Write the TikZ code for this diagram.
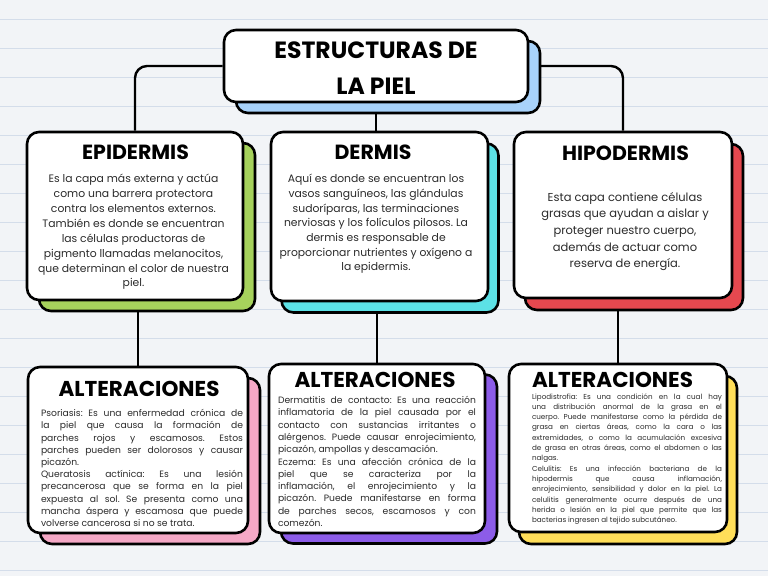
\documentclass[tikz,border=0pt]{standalone}
\usepackage{fontspec}
\setmainfont{Poppins}
\usetikzlibrary{positioning,backgrounds}
\setlength{\parindent}{0pt}
\frenchspacing

\definecolor{paper}{HTML}{F2F4F7}
\definecolor{ruling}{HTML}{D4DDEA}
\definecolor{ink}{HTML}{2B2B2B}
\definecolor{skyblue}{HTML}{A8D2FA}
\definecolor{leafgreen}{HTML}{A6D25C}
\definecolor{aqua}{HTML}{5CE1E6}
\definecolor{coral}{HTML}{E5484F}
\definecolor{rose}{HTML}{F5A8C6}
\definecolor{violet}{HTML}{8C5CE8}
\definecolor{sun}{HTML}{FFDE59}

\begin{document}
\begin{tikzpicture}[x=1pt,y=-1pt,
  box/.style={draw=black,line width=2.6pt,rounded corners=12pt,inner sep=0pt},
  link/.style={draw=black,line width=2.4pt,rounded corners=12pt},
  head/.style={inner sep=0pt,text=black,font=\bfseries\fontsize{20.5}{22}\selectfont},
  althead/.style={head,font=\bfseries\fontsize{21.5}{23}\selectfont},
  body/.style={inner sep=0pt,text=ink,align=center},
  altbody/.style={inner sep=0pt,text=ink,align=justify}]

\useasboundingbox (0,0) rectangle (768,576);

% paper
\begin{scope}[on background layer]
\fill[paper] (0,0) rectangle (768,576);
\foreach \y in {19,48,...,570}
  \draw[ruling,line width=0.9pt] (0,\y) -- (768,\y);
\end{scope}

% title
\node[box,fill=skyblue,minimum width=304pt,minimum height=72pt] (titleback) at (388,77) {};
\node[box,fill=white,minimum width=304pt,minimum height=72pt] (title) at (376,66) {};
\node[head,align=center,font=\bfseries\fontsize{23.5}{36}\selectfont] (titletext) at (376,68) {ESTRUCTURAS DE\\LA PIEL};

% layers
\node[box,fill=leafgreen,minimum width=216pt,minimum height=168pt] (epiback) at (147,227) {};
\node[box,fill=white,minimum width=216pt,minimum height=168pt] (epi) at (135,216) {};
\node[box,fill=aqua,minimum width=217pt,minimum height=169pt] (derback) at (390,228) {};
\node[box,fill=white,minimum width=217pt,minimum height=169pt] (der) at (379.5,216.5) {};
\node[box,fill=coral,minimum width=218pt,minimum height=166pt] (hipoback) at (634,227) {};
\node[box,fill=white,minimum width=218pt,minimum height=166pt] (hipo) at (623,215) {};

\node[head] (epihead) at (135.5,152) {EPIDERMIS};
\node[head] (derhead) at (373,152) {DERMIS};
\node[head] (hipohead) at (625.5,153) {HIPODERMIS};

\node[body,font=\fontsize{10.8}{14.9}\selectfont] (epibody) at (133.5,232) {Es la capa más externa y actúa\\
como una barrera protectora\\
contra los elementos externos.\\
También es donde se encuentran\\
las células productoras de\\
pigmento llamadas melanocitos,\\
que determinan el color de nuestra\\
piel.};
\node[body,font=\fontsize{10.8}{14.7}\selectfont] (derbody) at (376,224) {Aquí es donde se encuentran los\\
vasos sanguíneos, las glándulas\\
sudoríparas, las terminaciones\\
nerviosas y los folículos pilosos. La\\
dermis es responsable de\\
proporcionar nutrientes y oxígeno a\\
la epidermis.};
\node[body,font=\fontsize{11.5}{16.7}\selectfont] (hipobody) at (625,231.5) {Esta capa contiene células\\
grasas que ayudan a aislar y\\
proteger nuestro cuerpo,\\
además de actuar como\\
reserva de energía.};

% alterations
\node[box,fill=rose,minimum width=220pt,minimum height=166pt] (altoneback) at (150,461) {};
\node[box,fill=white,minimum width=220pt,minimum height=166pt] (altone) at (138,450) {};
\node[box,fill=violet,minimum width=216pt,minimum height=169pt] (alttwoback) at (389,459) {};
\node[box,fill=white,minimum width=216pt,minimum height=169pt] (alttwo) at (377,448.5) {};
\node[box,fill=sun,minimum width=218pt,minimum height=168pt] (altthreeback) at (628,460) {};
\node[box,fill=white,minimum width=218pt,minimum height=168pt] (altthree) at (618,448) {};

\node[althead] (altonehead) at (139,389) {ALTERACIONES};
\node[althead] (alttwohead) at (375,380) {ALTERACIONES};
\node[althead] (altthreehead) at (612.5,380) {ALTERACIONES};

\node[altbody,text width=202pt,font=\fontsize{9.2}{12.2}\selectfont] (altonebody) at (142,468) {Psoriasis: Es una enfermedad crónica de\linebreak
la piel que causa la formación de\linebreak
parches rojos y escamosos. Estos\linebreak
parches pueden ser dolorosos y causar\linebreak
picazón.\par
Queratosis actínica: Es una lesión\linebreak
precancerosa que se forma en la piel\linebreak
expuesta al sol. Se presenta como una\linebreak
mancha áspera y escamosa que puede\linebreak
volverse cancerosa si no se trata.};
\node[altbody,text width=198pt,font=\fontsize{9.2}{12.3}\selectfont] (alttwobody) at (377,461.5) {Dermatitis de contacto: Es una reacción\linebreak
inflamatoria de la piel causada por el\linebreak
contacto con sustancias irritantes o\linebreak
alérgenos. Puede causar enrojecimiento,\linebreak
picazón, ampollas y descamación.\par
Eczema: Es una afección crónica de la\linebreak
piel que se caracteriza por la\linebreak
inflamación, el enrojecimiento y la\linebreak
picazón. Puede manifestarse en forma\linebreak
de parches secos, escamosos y con\linebreak
comezón.};
\node[altbody,text width=190pt,font=\fontsize{7.2}{10.3}\selectfont] (altthreebody) at (627,459) {Lipodistrofia: Es una condición en la cual hay\linebreak
una distribución anormal de la grasa en el\linebreak
cuerpo. Puede manifestarse como la pérdida de\linebreak
grasa en ciertas áreas, como la cara o las\linebreak
extremidades, o como la acumulación excesiva\linebreak
de grasa en otras áreas, como el abdomen o las\linebreak
nalgas.\par
Celulitis: Es una infección bacteriana de la\linebreak
hipodermis que causa inflamación,\linebreak
enrojecimiento, sensibilidad y dolor en la piel. La\linebreak
celulitis generalmente ocurre después de una\linebreak
herida o lesión en la piel que permite que las\linebreak
bacterias ingresen al tejido subcutáneo.};

% connectors
\begin{scope}[on background layer]
\draw[link] (title.west) -| (epi.north);
\draw[link] (title.east) -| (hipo.north);
\draw[link] (title.south) -- (title.south |- der.north);
\draw[link] (altone.north |- epi.south) -- (altone.north);
\draw[link] (alttwo.north |- der.south) -- (alttwo.north);
\draw[link] (altthree.north |- hipo.south) -- (altthree.north);
\end{scope}

\end{tikzpicture}
\end{document}
